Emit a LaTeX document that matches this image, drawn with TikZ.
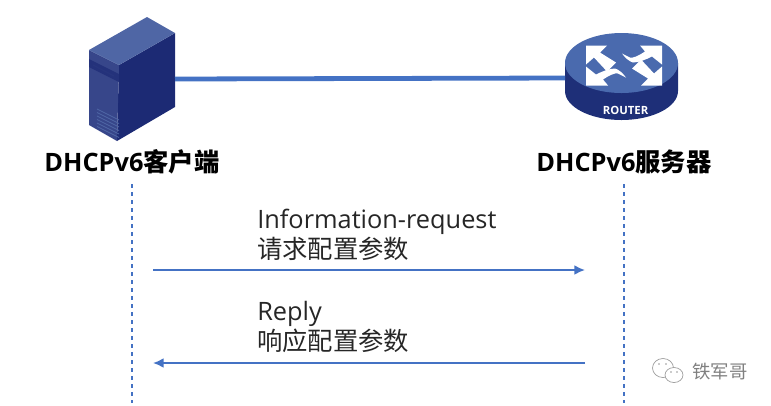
\documentclass[tikz,border=0pt]{standalone}
\usepackage{fontspec}
\setmainfont{Open Sans}
\newfontfamily\cjk{Noto Sans CJK SC}
\usepackage{tikz}
\usetikzlibrary{arrows.meta}
\definecolor{linkblue}{HTML}{4472C4}
\definecolor{srvtop}{HTML}{4F66A5}
\definecolor{srvside}{HTML}{1C2A74}
\definecolor{srvfront}{HTML}{37468A}
\definecolor{rtrtop}{HTML}{4A6AAE}
\definecolor{rtrside}{HTML}{1E2F78}
\begin{document}
\begin{tikzpicture}[x=0.75pt, y=-0.75pt,
title/.style = {font=\fontsize{19}{21}\selectfont\bfseries, text=black, inner sep=0},
msg/.style = {font=\fontsize{19}{23}\selectfont, text=black!85, align=left, inner sep=0, anchor=west},
lifeline/.style = {draw=linkblue, line width=1, dashed},
call/.style = {draw=linkblue, line width=1.5, -{Latex[length=8pt, width=7.5pt]}}]
\useasboundingbox (0,0) rectangle (771,405);
% server
\fill[srvside] (119,65) -- (175,33) -- (175,107) -- (117,141) -- cycle;
\fill[srvfront] (89,50) -- (119,65) -- (117,141) -- (89,125) -- cycle;
\fill[srvtop] (89,50) -- (147,17) -- (175,33) -- (119,65) -- cycle;
\fill[srvside!70!srvfront] (89,59) -- (119,74) -- (119,82) -- (89,67) -- cycle;
\draw[srvside!60!srvfront, line width=1] (93,65) -- (114,76);
\foreach \i in {0,1,2,3,4,5}
  \draw[srvtop, line width=0.6] (97,109+3.5*\i) -- (119,120+3.5*\i);
% router
\fill[rtrside] (565,63) -- (565,91) arc[start angle=180, end angle=0, x radius=56.5, y radius=29] -- (678,63) -- cycle;
\fill[rtrtop] (621.5,63) ellipse [x radius=56.5, y radius=30];
\begin{scope}[shift={(624,65.5)}]
\foreach \s in {1,-1} {
  \fill[white, xscale=\s, yscale=\s] (-38,-20) -- (-17,-20) -- (-24,-13) -- (-8,-3) -- (-17,6) -- (-30,-8) -- (-38,-1) -- cycle;
  \fill[white, xscale=\s, yscale=\s] (38,-20) -- (16,-20) -- (21,-14) .. controls (15,-10) and (9,-7) .. (6,-8) -- (-2,-12) .. controls (1,-8) and (5,-4) .. (9,-3) .. controls (15,-3) and (22,-6) .. (28,-9) -- (38,-1) -- cycle;
}
\end{scope}
\node[font=\fontsize{8.5}{9}\selectfont\bfseries, text=white, inner sep=0] at (625.5,110) (rtrlabel) {ROUTER};
% link
\coordinate (srv) at (175,79);
\coordinate (rtr) at (565,78);
\draw[linkblue, line width=3.6] (srv) -- (rtr);
% titles
\node[title] at (132,162) (client) {DHCPv6{\cjk 客户端}};
\node[title] at (624,162) (server) {DHCPv6{\cjk 服务器}};
% life lines
\coordinate (cend) at (132,403);
\coordinate (send) at (624,403);
\coordinate (cstart) at (132,184);
\coordinate (sstart) at (624,184);
\draw[lifeline] (cstart) -- (cend);
\draw[lifeline] (sstart) -- (send);
% messages
\coordinate (a1) at (153,270);
\coordinate (b1) at (585,270);
\coordinate (a2) at (153,363);
\coordinate (b2) at (585,363);
\draw[call] (a1) -- (b1);
\draw[call] (b2) -- (a2);
\node[msg] at (257,235) (req) {Information-request\\{\cjk 请求配置参数}};
\node[msg] at (257,327) (rep) {Reply\\{\cjk 响应配置参数}};
% mark
\draw[black!40, line width=0.5, fill=white] (663,368) ellipse [x radius=10.5, y radius=9.5];
\draw[black!40, line width=0.5, fill=white] (674,375) ellipse [x radius=9, y radius=7.5];
\foreach \ex/\ey in {659/364, 666/364, 671/372, 677/372}
  \fill[black!40] (\ex,\ey) circle [radius=0.9];
\node[font=\fontsize{13.8}{15}\selectfont\cjk, text=black!50, inner sep=0, anchor=west] at (692,372) (mark) {铁军哥};
\end{tikzpicture}
\end{document}
